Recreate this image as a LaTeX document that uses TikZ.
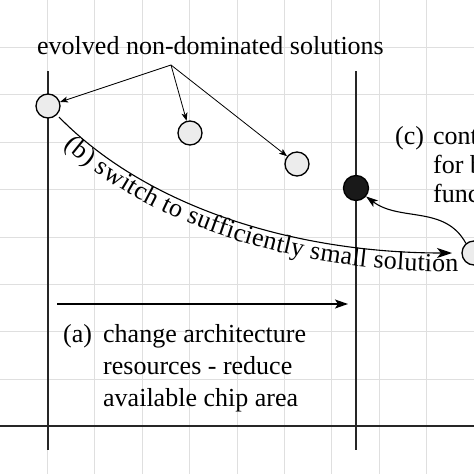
\documentclass[tikz,border=0pt]{standalone}
\usepackage{fontspec}
\setmainfont{Liberation Serif}
\usetikzlibrary{arrows.meta,decorations.text}
\begin{document}
\begin{tikzpicture}[x=1pt,y=1pt,
  gridline/.style={gray!25,line width=1pt},
  sol/.style={circle,draw,line width=1.3pt,fill=gray!15,minimum size=24pt,inner sep=0pt},
  solbest/.style={circle,draw,line width=1.3pt,fill=black!90,minimum size=25pt,inner sep=0pt},
  lbl/.style={font=\fontsize{26}{31}\selectfont,inner sep=0pt,anchor=base west},
  pointer/.style={line width=0.8pt,-{Stealth[length=8pt,width=6pt,inset=2pt]}},
  bigarrow/.style={line width=1.2pt,-{Stealth[length=13pt,width=9pt,inset=3pt]}},
  axisline/.style={line width=1.5pt,black!85},
  baseaxis/.style={line width=2.6pt,black!85}]
\useasboundingbox (0,0) rectangle (474,-474);
\fill[white] (0,0) rectangle (474,-474);
\foreach \k in {1,...,9} {
  \draw[gridline] (47.4*\k,0) -- (47.4*\k,-474);
  \draw[gridline] (0,-47.4*\k) -- (474,-47.4*\k);
}
% axes
\draw[baseaxis] (0,-426) -- (474,-426);
\draw[axisline] (48,-71) -- (48,-450);
\draw[axisline] (356,-71) -- (356,-450);
% solutions
\node[sol] (c1) at (48,-106) {};
\node[sol] (c2) at (190,-133) {};
\node[sol] (c3) at (297,-164) {};
\node[solbest] (cb) at (356,-188) {};
\node[sol] (c5) at (474,-253) {};
% label evolved
\node[font=\fontsize{26}{31}\selectfont,inner sep=0pt,anchor=base] (ev) at (210.5,-54.3) {evolved non-dominated solutions};
\coordinate (src) at (171,-65);
\draw[pointer] (src) -- (c1);
\draw[pointer] (src) -- (c2);
\draw[pointer] (src) -- (c3);
% (a)
\coordinate (a1) at (57,-304);
\coordinate (a2) at (348,-304);
\draw[bigarrow] (a1) -- (a2);
\node[lbl] (la) at (63,-342) {(a)};
\node[lbl] (la1) at (103,-342) {change architecture};
\node[lbl] (la2) at (103,-374) {resources - reduce};
\node[lbl] (la3) at (103,-406) {available chip area};
% (b)
\coordinate (b2) at (452,-253);
\coordinate (b3) at (474,-253);
\draw[line width=1.1pt,shorten <=3pt,-{Stealth[length=15pt,width=10pt,inset=4pt]}] (c1.-45) .. controls (150,-210) and (300,-253) .. (b2);
\path[decorate,decoration={text along path,
   text={|\fontsize{26}{31}\selectfont|(b) switch to sufficiently small solution},
   text align={left, left indent=26pt}, raise=-18.5pt}]
   (c1.-45) .. controls (150,-210) and (300,-253) .. (b2) -- (b3);
% (c)
\draw[line width=1.1pt,-{Stealth[length=12pt,width=8pt,inset=3pt]}] (c5.130) .. controls (445,-205) and (400,-222) .. (cb.-40);
\node[lbl] (lc) at (395,-144) {(c)};
\node[lbl] (lc1) at (433,-144) {cont};
\node[lbl] (lc2) at (433,-173) {for b};
\node[lbl] (lc3) at (433,-202) {func};
\end{tikzpicture}
\end{document}
